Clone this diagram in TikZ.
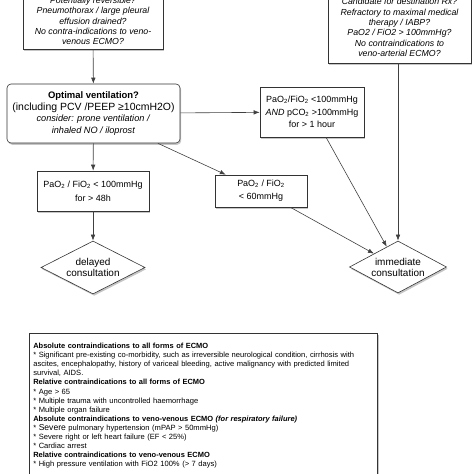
\documentclass[tikz,border=0pt]{standalone}
\usepackage{fontspec}
\setmainfont{Liberation Sans}
\usepackage{xcolor}
\usepackage{tikz}
\usetikzlibrary{shapes.geometric,shadows,arrows.meta}

\begin{document}
\begin{tikzpicture}[
    x=1bp, y=-1bp,
    block/.style={
        rectangle, draw=black!80, fill=white, semithick,
        align=center, inner sep=2bp,
        drop shadow={shadow xshift=1.2bp, shadow yshift=-1.8bp, opacity=0.45}
    },
    roundblock/.style={block, rounded corners=4bp},
    decision/.style={
        diamond, aspect=2, draw=black!80, fill=white, semithick, align=center, inner sep=0pt,
        drop shadow={shadow xshift=1.2bp, shadow yshift=-1.8bp, opacity=0.45},
        font=\fontsize{10}{11}\selectfont
    },
    line/.style={draw, -{Latex[length=6bp,width=4.5bp]}, semithick, color=black!75}
]
    \useasboundingbox (0,0) rectangle (474,474);
    \node [block, minimum width=140bp, minimum height=56bp,
        font=\fontsize{8.8}{10.3}\selectfont\itshape] (reversible) at (93,21) {
        Potentially reversible?\\
        Pneumothorax / large pleural\\
        effusion drained?\\
        No contra-indications to veno-\\
        venous ECMO?
    };
    \node [block, minimum width=143bp, minimum height=71bp,
        font=\fontsize{8.8}{10.3}\selectfont\itshape] (cardiac) at (399.5,27.5) {
        Candidate for destination Rx?\\
        Refractory to maximal medical\\
        therapy / IABP?\\
        PaO2 / FiO2 > 100mmHg?\\
        No contraindications to\\
        veno-arterial ECMO?
    };
    \node [roundblock, minimum width=173bp, minimum height=59bp,
        font=\fontsize{9.2}{11.7}\selectfont] (optimal) at (93.5,113.5) {
        {\fontsize{9.5}{11.7}\selectfont\bfseries Optimal ventilation?}\\
        {\fontsize{10.5}{11.7}\selectfont (including PCV /PEEP ≥10cmH2O)}\\
        \textit{consider: prone ventilation /}\\
        \textit{inhaled NO / iloprost}
    };
    \node [block, minimum width=104bp, minimum height=50bp,
        font=\fontsize{9}{12.5}\selectfont] (hypercap) at (312,112) {
        PaO\textsubscript{2}/FiO\textsubscript{2} <100mmHg\\
        \textit{AND} pCO\textsubscript{2} >100mmHg\\
        for > 1 hour
    };
    \node [block, minimum width=112bp, minimum height=40bp,
        font=\fontsize{9}{14}\selectfont] (hypox48) at (93,191) {
        PaO\textsubscript{2} / FiO\textsubscript{2} < 100mmHg\\
        for > 48h
    };
    \node [block, minimum width=92bp, minimum height=32bp,
        font=\fontsize{9}{13}\selectfont] (hypox60) at (261,191) {
        PaO\textsubscript{2} / FiO\textsubscript{2}\\
        < 60mmHg
    };
    \node [decision, minimum width=104bp, minimum height=53bp] (delayed) at (93,267.5)
        {delayed\\ consultation};
    \node [decision, minimum width=97bp, minimum height=52bp] (immediate) at (398,267)
        {immediate\\ consultation};
    \node [block, anchor=north west, text width=340bp, align=left, inner xsep=4bp,
        inner ysep=10bp, font=\fontsize{7.6}{9.1}\selectfont] (contra) at (29,333) {
        {\fontsize{7.5}{9.1}\selectfont\bfseries Absolute contraindications to all forms of ECMO}\\
        {*} Significant pre-existing co-morbidity, such as irreversible neurological condition, cirrhosis with\\
        ascites, encephalopathy, history of variceal bleeding, active malignancy with predicted limited\\
        survival, AIDS.\\
        {\fontsize{7.5}{9.1}\selectfont\bfseries Relative contraindications to all forms of ECMO}\\
        {*} Age > 65\\
        {*} Multiple trauma with uncontrolled haemorrhage\\
        {*} Multiple organ failure\\
        {\fontsize{7.5}{9.1}\selectfont\bfseries Absolute contraindications to veno-venous ECMO \textit{(for respiratory failure)}}\\
        {*} {\fontsize{8.6}{9.1}\selectfont Severe} pulmonary hypertension (mPAP > 50mmHg)\\
        {*} Severe right or left heart failure (EF < 25\%)\\
        {*} Cardiac arrest\\
        {\fontsize{7.5}{9.1}\selectfont\bfseries Relative contraindications to veno-venous ECMO}\\
        {*} High pressure ventilation with FiO2 100\% (> 7 days)
    };
    \path [line] (reversible) -- (optimal);
    \path [line] (optimal) -- (hypox48);
    \path [line] (hypox48) -- (delayed);
    \path [line] (optimal) -- (hypercap);
    \path [line] (optimal) -- (hypox60);
    \path [line] (hypercap) -- (immediate);
    \path [line] (hypox60) -- (immediate);
    \path [line] (cardiac.south -| immediate.north) -- (immediate.north);
\end{tikzpicture}
\end{document}
